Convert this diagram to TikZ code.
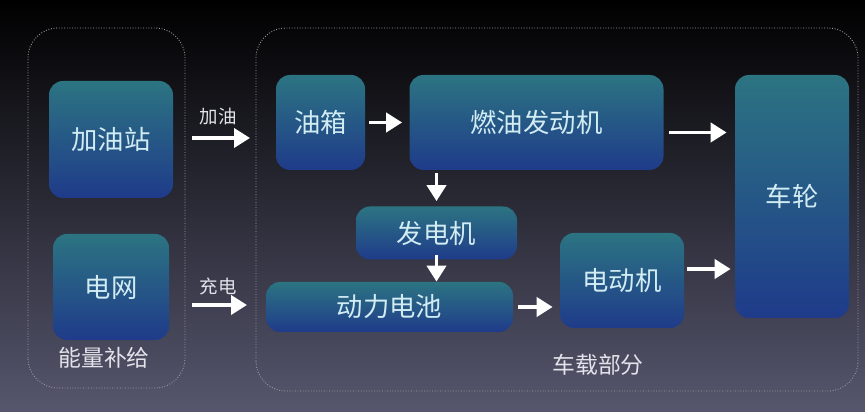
\documentclass[tikz,border=0pt]{standalone}
\usepackage{fontspec}
\setmainfont{Noto Sans CJK SC}
\usepackage{xcolor}
\usepackage{tikz}
\usetikzlibrary{shapes,arrows.meta,positioning}

\definecolor{boxtop}{HTML}{2C7482}
\definecolor{boxbot}{HTML}{1F3B8A}
\definecolor{boxtext}{HTML}{D2ECF4}
\definecolor{bgmid}{HTML}{15152A}
\definecolor{bgbot}{HTML}{56566E}
\definecolor{labeltext}{HTML}{E2E2EA}

\begin{document}
\begin{tikzpicture}[
        part/.style={rectangle, rounded corners=0.28cm, top color=boxtop, bottom color=boxbot, text=boxtext, font=\fontsize{15}{18}\selectfont, inner sep=0pt, align=center},
        group/.style={rounded corners=0.6cm, densely dotted, draw=gray!75, line width=0.5pt},
        tag/.style={text=labeltext, font=\fontsize{13}{15}\selectfont},
        flowtag/.style={text=labeltext, font=\fontsize{10.5}{12}\selectfont},
        arrow/.style={white, line width=2.2pt, ->, >={Triangle[length=0.32cm,width=0.38cm]}}
    ]
        % Background
        \shade[top color=black, middle color=bgmid, bottom color=bgbot] (0,0) rectangle (17.3,8.24);
        \useasboundingbox (0,0) rectangle (17.3,8.24);

        % Groups
        \draw[group] (0.56,0.48) rectangle (3.70,7.68);
        \draw[group] (5.12,0.42) rectangle (17.16,7.68);

        % Energy supply
        \node[part, minimum width=2.48cm, minimum height=2.34cm] (station) at (2.22,5.45) {加油站};
        \node[part, minimum width=2.32cm, minimum height=2.12cm] (grid) at (2.22,2.50) {电网};
        \node[tag] (supply) at (2.08,1.08) {能量补给};

        % On-board parts
        \node[part, minimum width=1.78cm, minimum height=1.90cm] (tank) at (6.41,5.79) {油箱};
        \node[part, minimum width=5.08cm, minimum height=1.90cm] (engine) at (10.73,5.79) {燃油发动机};
        \node[part, minimum width=2.28cm, minimum height=4.86cm] (wheel) at (15.84,4.31) {车轮};
        \node[part, minimum width=3.22cm, minimum height=1.06cm] (generator) at (8.73,3.58) {发电机};
        \node[part, minimum width=4.94cm, minimum height=1.00cm] (battery) at (7.79,2.10) {动力电池};
        \node[part, minimum width=2.48cm, minimum height=1.90cm] (motor) at (12.44,2.63) {电动机};
        \node[tag] (onboard) at (11.96,0.94) {车载部分};

        % Refuel and charge
        \coordinate (fuelstart) at (3.84,5.48);
        \coordinate (fuelend) at (5.00,5.48);
        \coordinate (chargestart) at (3.84,2.14);
        \coordinate (chargeend) at (4.94,2.14);
        \draw[arrow] (fuelstart) -- (fuelend);
        \draw[arrow] (chargestart) -- (chargeend);
        \node[flowtag] (fuel) at (4.36,5.90) {加油};
        \node[flowtag] (charge) at (4.36,2.52) {充电};

        % Connections
        \draw[arrow, shorten <=0.08cm, shorten >=0.14cm] (tank) -- (engine);
        \draw[arrow, shorten <=0.1cm, shorten >=0.16cm] ([yshift=-0.2cm]engine.east) -- ([yshift=-0.2cm]engine.east -| wheel.west);
        \draw[arrow, shorten <=0.06cm, shorten >=0.1cm] (engine.south -| generator.north) -- (generator.north);
        \draw[arrow, shorten <=-0.1cm] (generator.south) -- (generator.south |- battery.north);
        \draw[arrow, shorten <=0.1cm, shorten >=0.14cm] (battery.east) -- (battery.east -| motor.west);
        \draw[arrow, shorten <=0.06cm, shorten >=0.08cm] ([yshift=0.23cm]motor.east) -- ([yshift=0.23cm]motor.east -| wheel.west);
    \end{tikzpicture}
\end{document}
